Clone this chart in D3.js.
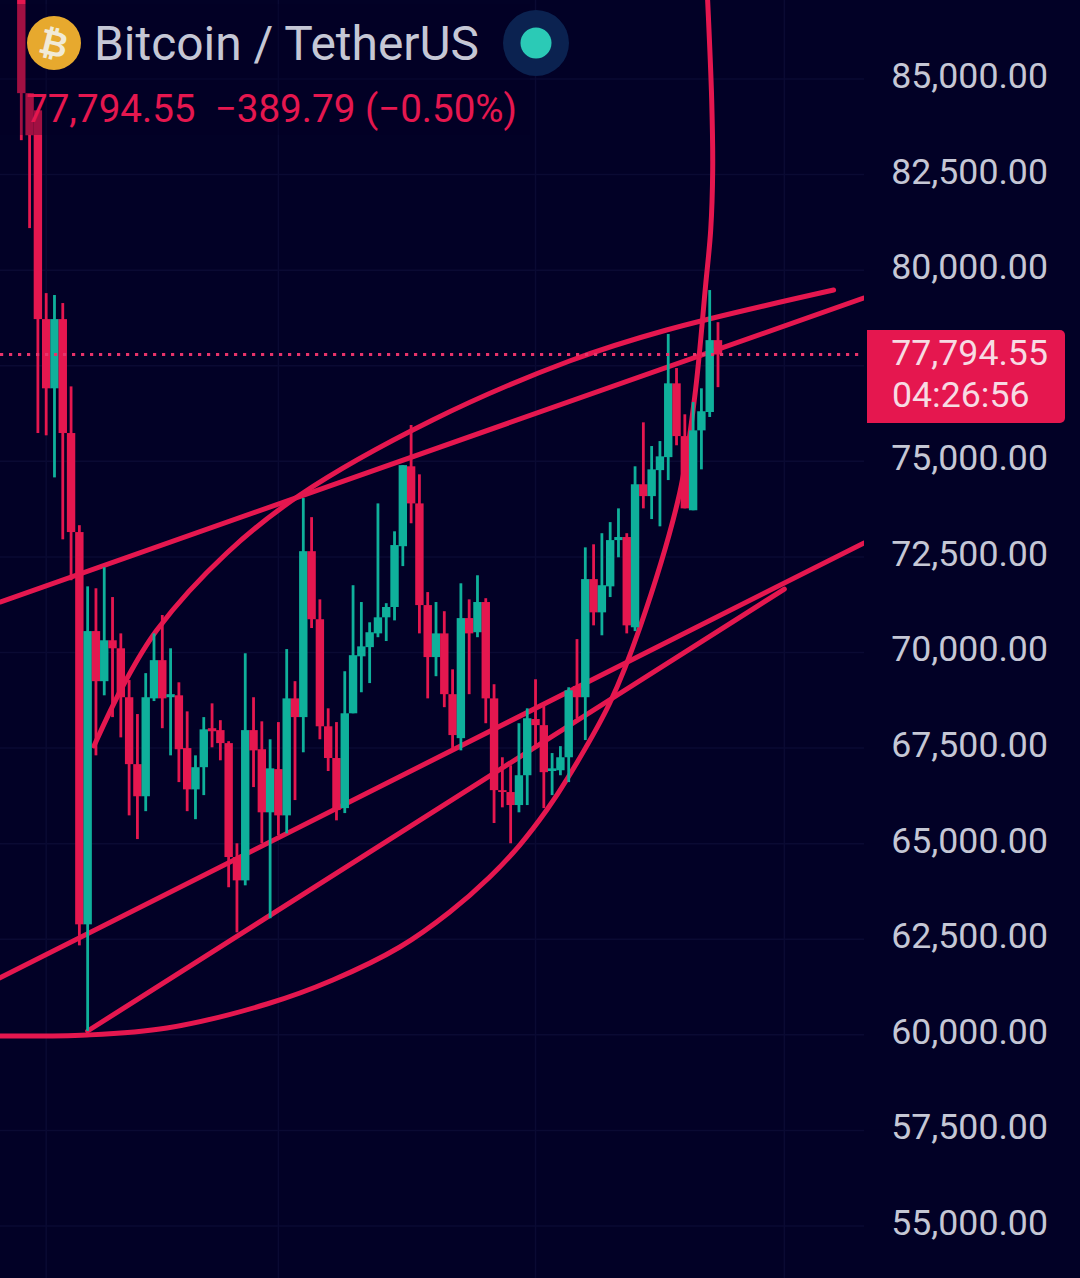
<!DOCTYPE html>
<html>
<head>
<title>Bitcoin / TetherUS</title>
<style>
html, body {
	margin: 0;
	padding: 0;
	background: #020126;
}
svg {
	display: block;
	font-family: Roboto, sans-serif;
}
</style>
<script type="text/javascript" src="https://cdn.jsdelivr.net/npm/d3@7"></script>
</head>
<body>
<div id="chart_panel"></div>
<script type="text/javascript">

	var width = 1080, height = 1278;
	var bg = "#020126", red = "#e5174f", green = "#0fb09b", grey = "#c5c7d5", gridCol = "#0a0a33";

	// daily candles, left to right
	var opens = [87300,84630,84180,78720,76910,78720,75740,73150,62890,70560,69250,70320,70110,68830,67080,66240,68800,69800,68830,68880,67500,66420,67000,68020,67970,67630,64650,64040,67970,67470,65820,66950,65740,68800,68310,72650,70870,68070,67240,65930,68410,69900,70140,70500,70920,71190,72780,74870,73900,71240,69880,70500,68910,67760,70900,70530,71320,68800,66400,66350,66010,66790,68260,68100,66900,66920,67260,69120,68830,71920,71050,71730,72940,73020,70660,74400,74090,74770,75110,77040,75660,73720,75810,76290,78170];
	var highs = [87500,84630,84180,79400,79350,79140,76960,73330,71730,71680,72230,71450,70500,69280,68390,69460,70500,70980,70110,69220,68460,67310,68310,68670,68230,67680,65010,69980,68830,68200,67730,68180,70090,69250,74040,73540,71390,68540,68180,69510,71760,71320,70790,73900,71290,73170,74900,75950,74660,71580,71320,71080,69560,71810,71390,72020,71420,69170,67260,67050,68150,68540,69300,68620,67370,67550,69090,70350,72750,72830,73120,73410,73770,73120,74870,76020,75400,75530,78330,77440,76230,76550,76910,79480,78640];
	var lows = [83400,81100,75740,75680,74580,72960,71890,62340,60100,67310,68880,68310,67780,65740,65120,65850,68730,68020,67310,66610,65850,65640,66270,67520,67180,63860,62680,63910,66480,65010,63050,65220,65270,66140,67390,70640,67730,66900,65610,65800,68410,68960,69200,70400,70300,70840,72260,73380,70500,68800,69380,68570,67440,67440,68910,70400,68150,65540,65950,65010,65820,66010,67520,65930,66270,66790,66610,68280,67710,70710,70450,71450,72490,70500,70560,73770,73490,73300,74510,75420,73770,73720,74790,76160,76940];
	var closes = [84630,83530,78720,76910,78720,75740,73150,62890,70560,69250,70320,70110,68830,67080,66240,68830,69800,68800,68910,67470,66420,67000,67990,67940,67630,64650,64040,67970,67440,65820,66970,65740,68800,68310,72650,70870,68070,67240,65880,68410,69930,70160,70530,70920,71190,72810,74900,73900,71240,69880,70500,68910,67840,70900,70500,71320,68800,66400,66350,66010,66790,68280,68100,66870,66970,67260,69010,68830,71920,71050,71760,72940,73020,70710,74400,74090,74790,75130,77040,75660,73770,75810,76310,78170,77794.55];

	var priceTicks = [85000,82500,80000,77500,75000,72500,70000,67500,65000,62500,60000,57500,55000];
	var labelTicks = [85000,82500,80000,75000,72500,70000,67500,65000,62500,60000,57500,55000];
	var monthStarts = [3,31,62,92];

	var lastPrice = 77794.55;
	var timer = "04:26:56";
	var headerTitle = "Bitcoin / TetherUS";
	var headerChange = "77,794.55  \u2212389.79 (\u22120.50%)";

	// drawing tools, in bar number and price
	var upperLineBars = [-2.57,101.55], upperLinePrices = [71320,79270];
	var lowerLineBars = [-2.57,101.55], lowerLinePrices = [61490,72860];
	var supportLineBars = [8,92], supportLinePrices = [60100,71660];
	var topArcBars = [8.76,12.25,16.35,24.79,33.59,49.6,66.1,77.8,97.94];
	var topArcPrices = [67554,69124,70588,72602,74119,76081,77624,78435,79481];
	var bottomArcBars = [-2.57,7.92,17.56,29.61,37.56,45.64,51.66,56.48,60.1,63.35,65.88,70.95,74.56,79.38,81.19,82.51,83.12,83.36,83.24,82.75];
	var bottomArcPrices = [59969,59995,60178,60806,61434,62297,63213,64128,64965,65880,66717,68679,70641,74172,76682,79612,81050,82620,84450,87066];

	var x = d3.scaleLinear().domain([0, 84]).range([21.3, 718]);
	var y = d3.scaleLinear().domain([85000, 55000]).range([79, 1226]);
	var plotRight = 864;
	var bodyWidth = 8.4, wickWidth = 2.8;

	var svg = d3.select("#chart_panel").append("svg")
		.attr("width", width)
		.attr("height", height);

	svg.append("rect")
		.attr("width", width)
		.attr("height", height)
		.attr("fill", bg);

	svg.append("clipPath").attr("id", "plot")
		.append("rect")
		.attr("width", plotRight)
		.attr("height", height);

	// grid
	var grid = svg.append("g").attr("stroke", gridCol).attr("stroke-width", 1.5);
	grid.selectAll("line.h")
		.data(priceTicks)
		.enter().append("line")
			.attr("class", "h")
			.attr("x1", 0)
			.attr("x2", plotRight)
			.attr("y1", function (d) { return y(d); })
			.attr("y2", function (d) { return y(d); });
	grid.selectAll("line.v")
		.data(monthStarts)
		.enter().append("line")
			.attr("class", "v")
			.attr("x1", function (d) { return x(d); })
			.attr("x2", function (d) { return x(d); })
			.attr("y1", 0)
			.attr("y2", height);

	var plot = svg.append("g").attr("clip-path", "url(#plot)");

	// trend lines and arcs sit under the candles
	var straight = d3.line()
		.x(function (d) { return x(d[0]); })
		.y(function (d) { return y(d[1]); });
	var curved = d3.line()
		.curve(d3.curveCatmullRom.alpha(0.5))
		.x(function (d) { return x(d[0]); })
		.y(function (d) { return y(d[1]); });

	function drawLine (bars, prices, gen) {
		plot.append("path")
			.attr("d", gen(d3.zip(bars, prices)))
			.attr("fill", "none")
			.attr("stroke", red)
			.attr("stroke-width", 5)
			.attr("stroke-linecap", "round");
	}
	drawLine(upperLineBars, upperLinePrices, straight);
	drawLine(lowerLineBars, lowerLinePrices, straight);
	drawLine(supportLineBars, supportLinePrices, straight);
	drawLine(topArcBars, topArcPrices, curved);
	drawLine(bottomArcBars, bottomArcPrices, curved);

	// candles
	function colorOf (i) {
		return closes[i] >= opens[i] ? green : red;
	}
	var candle = plot.selectAll("g.candle")
		.data(d3.range(opens.length))
		.enter().append("g")
			.attr("class", "candle")
			.attr("fill", colorOf);
	candle.append("rect")
		.attr("x", function (i) { return x(i) - wickWidth / 2; })
		.attr("width", wickWidth)
		.attr("y", function (i) { return y(highs[i]); })
		.attr("height", function (i) { return y(lows[i]) - y(highs[i]); });
	candle.append("rect")
		.attr("x", function (i) { return x(i) - bodyWidth / 2; })
		.attr("width", bodyWidth)
		.attr("y", function (i) { return y(Math.max(opens[i], closes[i])); })
		.attr("height", function (i) { return Math.max(1.5, Math.abs(y(opens[i]) - y(closes[i]))); });

	// last price line
	svg.append("line")
		.attr("x1", 0)
		.attr("x2", plotRight)
		.attr("y1", y(lastPrice))
		.attr("y2", y(lastPrice))
		.attr("stroke", "#e8336a")
		.attr("stroke-width", 3)
		.attr("stroke-dasharray", "3.2 5.8");

	// price axis
	var axis = d3.axisRight(y)
		.tickValues(labelTicks)
		.tickFormat(d3.format(",.2f"))
		.tickSize(0);
	var axisG = svg.append("g")
		.attr("transform", "translate(1048,0)")
		.call(axis);
	axisG.select(".domain").remove();
	axisG.selectAll("text")
		.attr("x", 0)
		.attr("y", -3)
		.attr("text-anchor", "end")
		.attr("font-family", "Roboto, sans-serif")
		.attr("font-size", 35.7)
		.attr("fill", grey);

	// last price tag
	svg.append("path")
		.attr("d", "M867,330H1060a5,5 0 0 1 5,5V418a5,5 0 0 1 -5,5H867Z")
		.attr("fill", red);
	svg.append("text")
		.attr("x", 1048)
		.attr("y", 365)
		.attr("text-anchor", "end")
		.attr("font-size", 35.7)
		.attr("fill", "#f7dbe3")
		.text(d3.format(",.2f")(lastPrice));
	svg.append("text")
		.attr("x", 892)
		.attr("y", 407)
		.attr("font-size", 35.7)
		.attr("fill", "#f7dbe3")
		.text(timer);

	// header, it dims whatever runs underneath
	svg.append("rect")
		.attr("x", 0)
		.attr("y", 4)
		.attr("width", 530)
		.attr("height", 131)
		.attr("fill", bg)
		.attr("opacity", 0.3);
	svg.append("circle")
		.attr("cx", 54)
		.attr("cy", 43)
		.attr("r", 27)
		.attr("fill", "#e7a92e");
	svg.append("text")
		.attr("x", 54)
		.attr("y", 43)
		.attr("dy", "0.36em")
		.attr("text-anchor", "middle")
		.attr("font-family", "DejaVu Sans, sans-serif")
		.attr("font-weight", "bold")
		.attr("font-size", 35)
		.attr("fill", "#f1ead6")
		.attr("transform", "rotate(14,54,43)")
		.text("\u20bf");
	svg.append("text")
		.attr("x", 94)
		.attr("y", 60)
		.attr("font-size", 47.9)
		.attr("fill", grey)
		.text(headerTitle);
	svg.append("circle")
		.attr("cx", 536)
		.attr("cy", 43)
		.attr("r", 33)
		.attr("fill", "#0b2250");
	svg.append("circle")
		.attr("cx", 536)
		.attr("cy", 43)
		.attr("r", 15.5)
		.attr("fill", "#2bcab6");
	svg.append("text")
		.attr("x", 26)
		.attr("y", 122)
		.attr("font-size", 38.6)
		.attr("fill", red)
		.attr("xml:space", "preserve")
		.style("white-space", "pre")
		.text(headerChange);
</script>
</body>
</html>
